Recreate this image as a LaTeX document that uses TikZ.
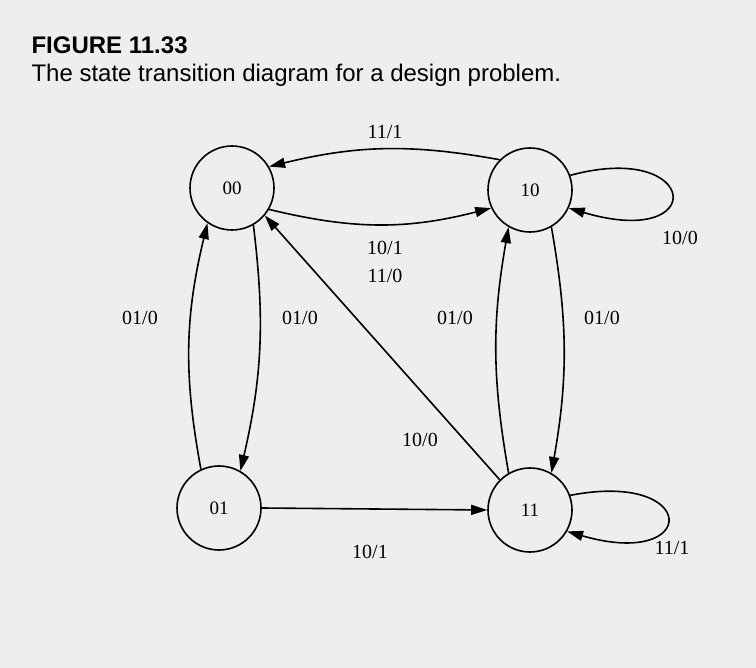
\documentclass[tikz,border=0pt]{standalone}
\usepackage{fontspec}
\setmainfont{Liberation Serif}
\newfontfamily\capfont{Liberation Sans}
\usetikzlibrary{arrows.meta}
\begin{document}
\begin{tikzpicture}[x=1pt,y=-1pt,
  st/.style={circle,draw,line width=1.6pt,minimum size=84pt,inner sep=0pt,font=\fontsize{19}{19}\selectfont},
  tr/.style={line width=1.6pt,-{Triangle[length=16pt,width=10pt]}},
  lb/.style={font=\fontsize{20}{20}\selectfont}]
\fill[fill={rgb,255:red,240;green,238;blue,236}] (0,0) rectangle (756,668);
\useasboundingbox (0,0) rectangle (756,668);
\node[anchor=west,font=\capfont\bfseries\fontsize{24}{24}\selectfont] (fig) at (28,45) {FIGURE 11.33};
\node[anchor=west,font=\capfont\fontsize{24}{24}\selectfont] (cap) at (28,75) {The state transition diagram for a design problem.};
\node[st] (s00) at (232,188) {00};
\node[st] (s10) at (530,190) {10};
\node[st] (s01) at (219,508) {01};
\node[st] (s11) at (530,510) {11};
\draw[tr] (s10.135) to[bend right=12] (s00.30);
\draw[tr] (s00.-30) to[bend right=14] (s10.205);
\draw[tr] (s10.20) .. controls (700,140) and (710,250) .. (s10.-25);
\draw[tr] (s11.20) .. controls (700,470) and (700,570) .. (s11.-30);
\draw[tr] (s01.115) to[bend left=12] (s00.235);
\draw[tr] (s00.-60) to[bend left=10] (s01.60);
\draw[tr] (s10.-60) to[bend left=10] (s11.60);
\draw[tr] (s11.120) to[bend left=10] (s10.240);
\draw[tr] (s01.east) -- (s11.west);
\draw[tr] (s11.135) -- (s00.-40);
\node[lb] (l1) at (385,132) {11/1};
\node[lb] (l2) at (385,248) {10/1};
\node[lb] (l3) at (385,276) {11/0};
\node[lb] (l4) at (680,238) {10/0};
\node[lb] (l5) at (140,318) {01/0};
\node[lb] (l6) at (300,318) {01/0};
\node[lb] (l7) at (455,318) {01/0};
\node[lb] (l8) at (602,318) {01/0};
\node[lb] (l9) at (420,440) {10/0};
\node[lb] (l10) at (370,552) {10/1};
\node[lb] (l11) at (672,548) {11/1};
\end{tikzpicture}
\end{document}
